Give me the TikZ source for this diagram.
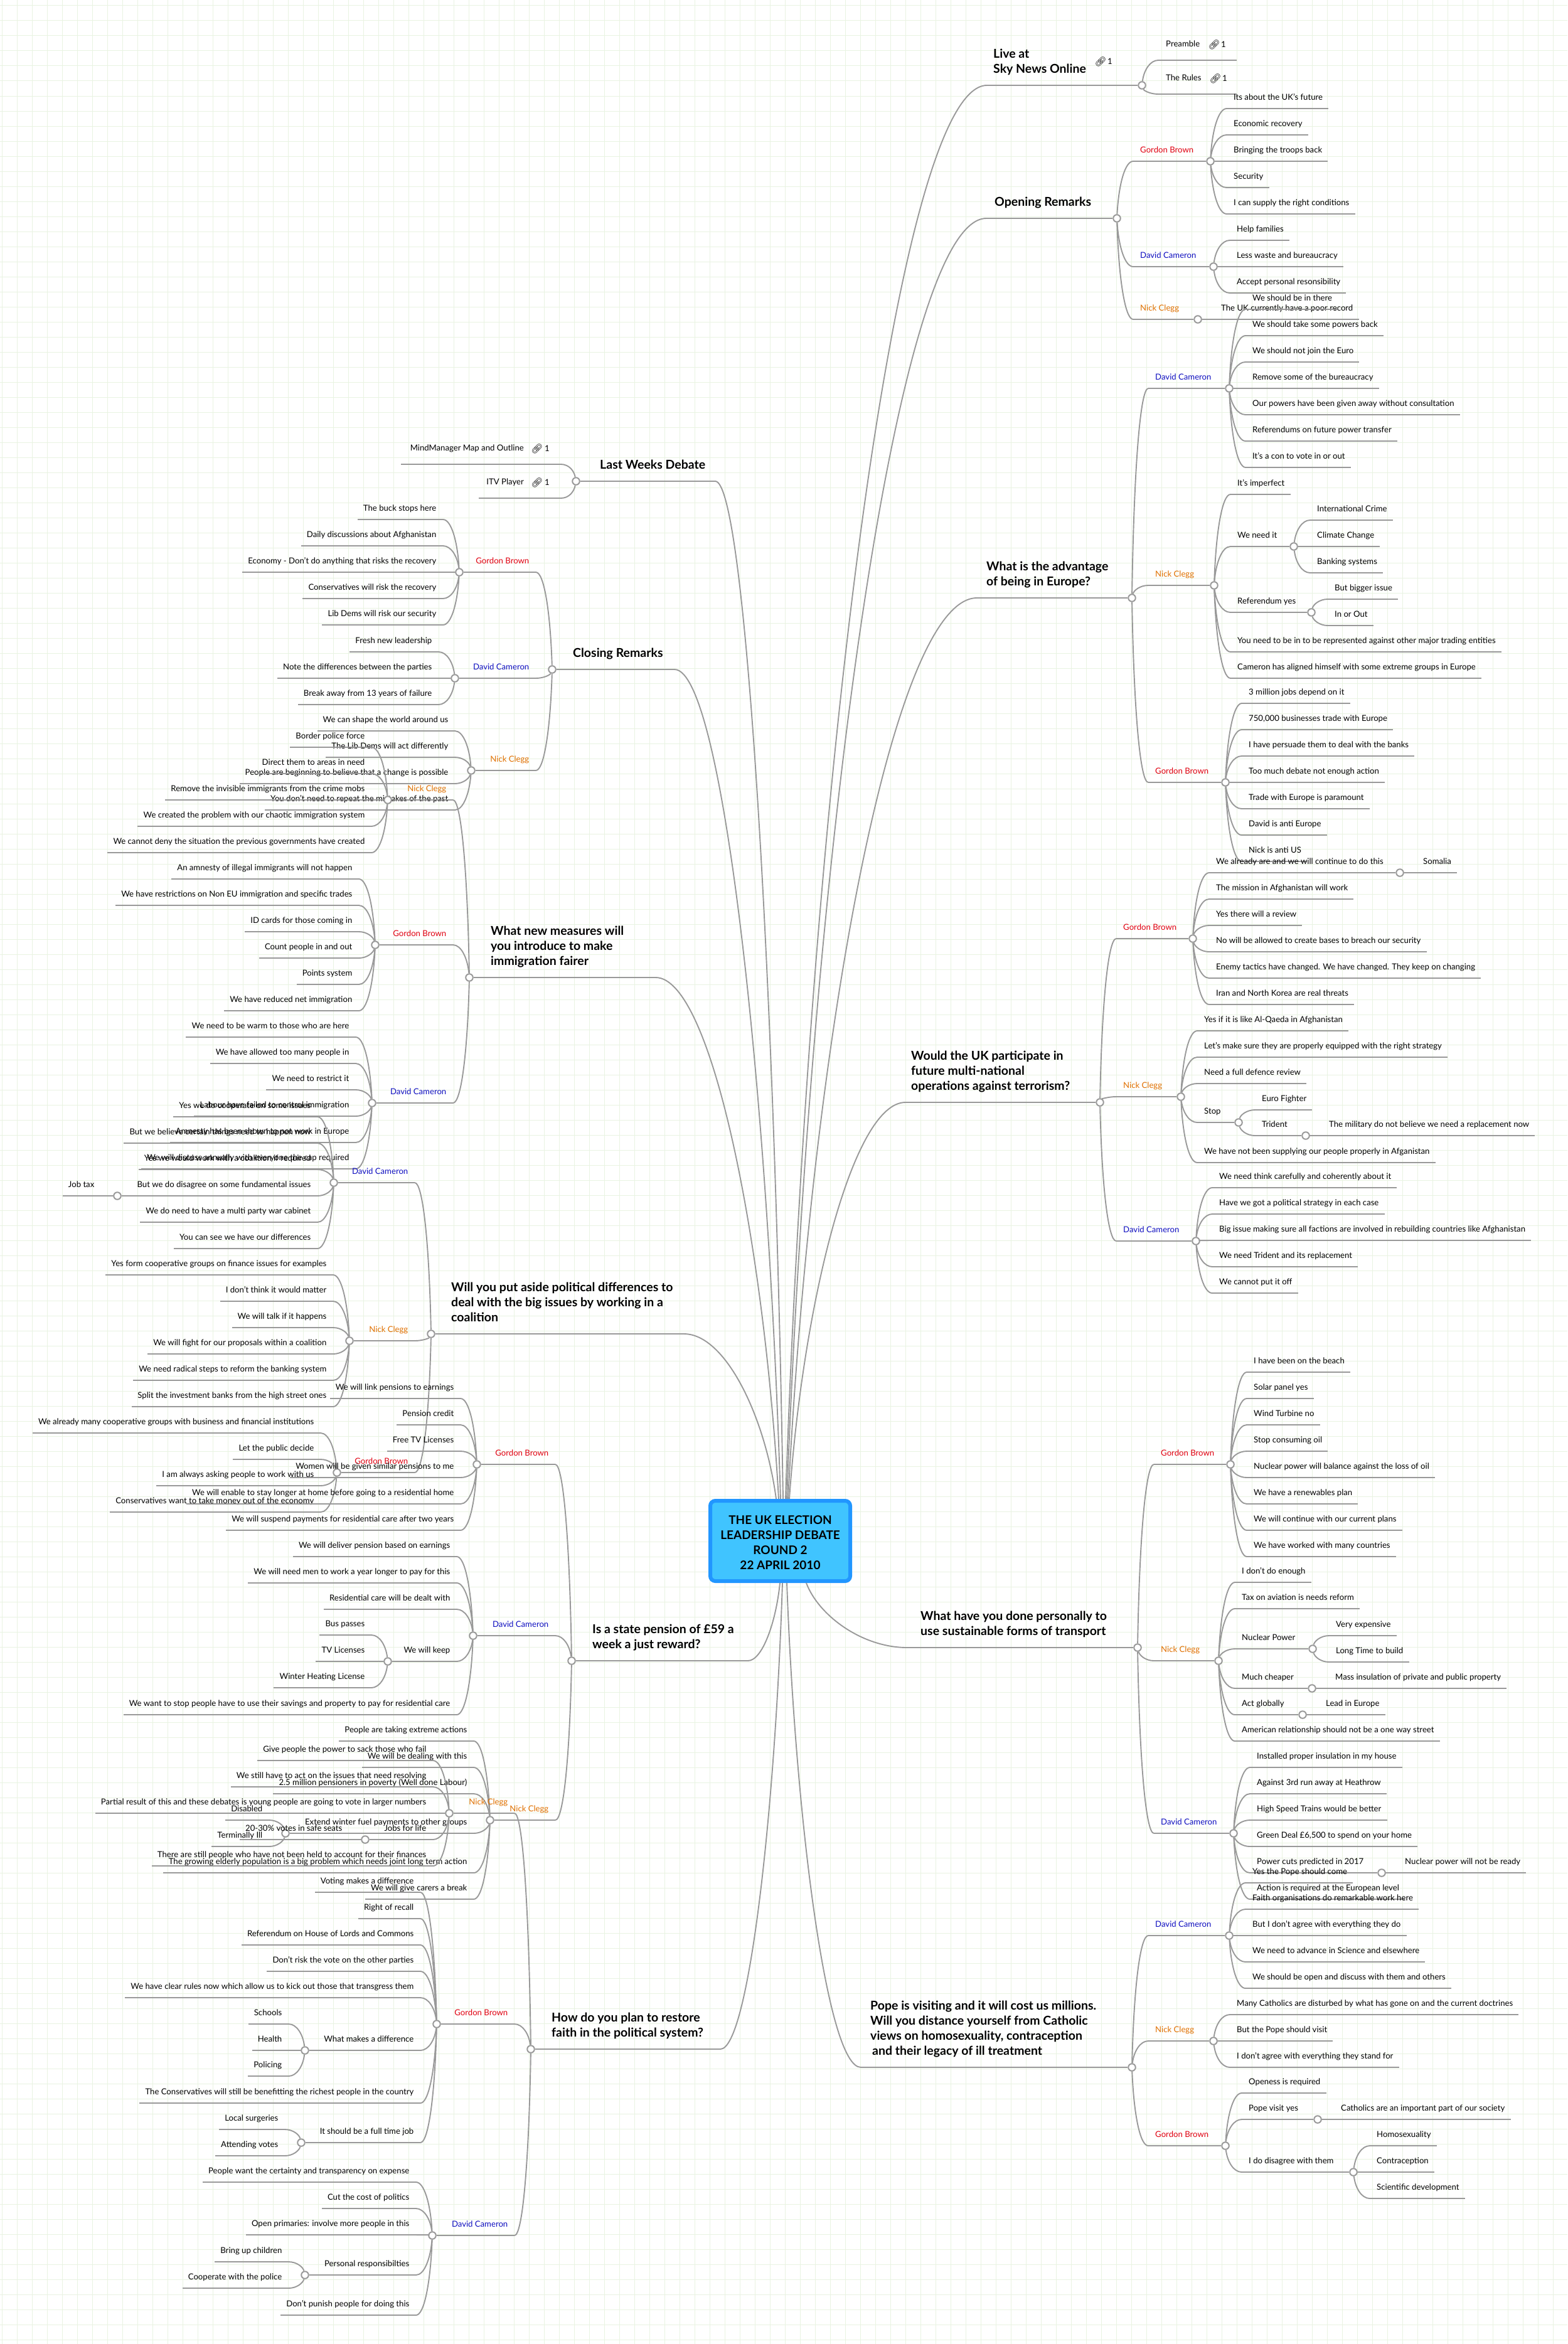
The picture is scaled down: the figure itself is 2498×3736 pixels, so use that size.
\documentclass[tikz,border=0pt]{standalone}
\usepackage{fontspec}
\usetikzlibrary{calc}
\setmainfont{Lato}
\newfontfamily\emo{Noto Emoji}
\definecolor{gridc}{HTML}{E9F3E2}
\definecolor{linec}{HTML}{999999}
\definecolor{gbc}{HTML}{E00010}
\definecolor{dcc}{HTML}{1010C0}
\definecolor{ncc}{HTML}{E07000}
\definecolor{rootb}{HTML}{2196FF}
\definecolor{rootf}{HTML}{40C4FF}
\tikzset{
 conn/.style={draw=linec,line width=1.9pt},
 hubn/.style={circle,draw=linec,fill=white,line width=2pt,minimum size=11.5pt,inner sep=0pt},
 leaf/.style={inner sep=0pt,font=\fontsize{13.15}{15}\selectfont,text height=10pt,text depth=3pt},
 gb/.style={leaf,text=gbc},
 dc/.style={leaf,text=dcc},
 nc/.style={leaf,text=ncc},
 mainn/.style={inner sep=0pt,align=left,anchor=south west,font=\fontsize{19.5}{24}\selectfont\bfseries},
 lk/.style={inner sep=0pt,font=\emo\fontsize{15}{15}\selectfont},
 lkn/.style={inner sep=0pt,font=\fontsize{13.15}{15}\selectfont},
}
% curve from a line end to a hub; #3 = +1 right side, -1 left side
\newcommand\Bez[3]{\draw[conn] let \p1=(#1),\p2=(#2) in (#1) .. controls ({\x1-(#3)*13pt},\y1) and ({\x2+(#3)*3pt},{\y2+0.6*(\y1-\y2)}) .. (#2);}
\newcommand\Hub[3]{\node[hubn] (#1) at (#2,#3) {};}
% right leaf: [style]{parent}{name}{y}{text}
\newcommand\RL[5][leaf]{%
 \path let \p1=(#2),\p2=(0,#4) in coordinate (#3o) at ({\x1+37pt},{\y2+17.5pt}) coordinate (#3c) at ({\x1+26pt},\y2);
 \node[#1,anchor=west] (#3) at (#3o) {#5};
 \path let \p1=(#3.east),\p2=(#3c) in coordinate (#3e) at ({\x1+9pt},\y2);
 \draw[conn] (#3c) -- (#3e);
 \Bez{#3c}{#2}{1}}
% right leaf ending in a hub: [style]{parent}{name}{y}{text}{hub x}
\newcommand\RH[6][leaf]{%
 \path let \p1=(#2),\p2=(0,#4) in coordinate (#3o) at ({\x1+37pt},{\y2+17.5pt}) coordinate (#3c) at ({\x1+26pt},\y2);
 \node[#1,anchor=west] (#3) at (#3o) {#5};
 \Hub{#3h}{#6}{#4}
 \draw[conn] (#3c) -- (#3h);
 \Bez{#3c}{#2}{1}}
% left leaf
\newcommand\LL[5][leaf]{%
 \path let \p1=(#2),\p2=(0,#4) in coordinate (#3o) at ({\x1-36.5pt},{\y2+17.5pt}) coordinate (#3c) at ({\x1-26pt},\y2);
 \node[#1,anchor=east] (#3) at (#3o) {#5};
 \path let \p1=(#3.west),\p2=(#3c) in coordinate (#3e) at ({\x1-9pt},\y2);
 \draw[conn] (#3c) -- (#3e);
 \Bez{#3c}{#2}{-1}}
\newcommand\LH[6][leaf]{%
 \path let \p1=(#2),\p2=(0,#4) in coordinate (#3o) at ({\x1-36.5pt},{\y2+17.5pt}) coordinate (#3c) at ({\x1-26pt},\y2);
 \node[#1,anchor=east] (#3) at (#3o) {#5};
 \Hub{#3h}{#6}{#4}
 \draw[conn] (#3c) -- (#3h);
 \Bez{#3c}{#2}{-1}}
% main branch: {name}{hub x}{y}{line end x}{root anchor}{offset}{text x}{text}
\newcommand\MB[8]{%
 \Hub{#1}{#2}{#3}
 \coordinate (#1s) at ([xshift=#6pt]#5);
 \coordinate (#1e) at (#4,#3);
 \draw[conn] (#1) -- (#1e);
 \draw[conn] let \p1=(#1s),\p2=(#1e) in (#1s) .. controls ({\x1+0.12*(\x2-\x1)},{\y1+0.5*(\y2-\y1)}) and ({\x1+0.55*(\x2-\x1)},\y2) .. (#1e);
 \node[mainn] (#1t) at (#7,#3-12) {#8\strut};}
\begin{document}
\begin{tikzpicture}[x=1pt,y=-1pt]
\useasboundingbox (0,0) rectangle (2498,3736);
\fill[white] (0,0) rectangle (2498,3736);
\foreach \gx in {3,27,...,2498} \draw[gridc,line width=1pt] (\gx,0) -- (\gx,3736);
\foreach \gy in {9,33,...,3736} \draw[gridc,line width=1pt] (0,\gy) -- (2498,\gy);
\node[draw=rootb,fill=rootf,line width=6pt,rounded corners=8pt,minimum width=223pt,minimum height=128pt,align=center,font=\fontsize{19}{24}\selectfont\bfseries,inner sep=0pt] (root) at (1243.5,2456) {\rule{0pt}{19pt}THE UK ELECTION\\LEADERSHIP DEBATE\\ROUND 2\\22 APRIL 2010};
%%%% RIGHT
\MB{live}{1820}{136}{1573}{root.north}{8.5}{1583}{Live at\\Sky News Online}
\node[lk] (liveic) at (1754,98) {🔗};
\node[lkn] (liven) at (1769,98) {1};
\node[leaf,anchor=west] (pre) at (1858,71) {Preamble};
\coordinate (prec) at (1846,96); \coordinate (pree) at (1971,96);
\draw[conn] (prec) -- (pree); \Bez{prec}{live}{1}
\node[lk] (preic) at (1935,71) {🔗};
\node[lkn] (pren) at (1950,71) {1};
\node[leaf,anchor=west] (rul) at (1858,125) {The Rules};
\coordinate (rulc) at (1846,150); \coordinate (rule) at (1971,150);
\draw[conn] (rulc) -- (rule); \Bez{rulc}{live}{1}
\node[lk] (rulic) at (1937,125) {🔗};
\node[lkn] (ruln) at (1952,125) {1};

\MB{op}{1780}{348}{1572}{root.north}{10.5}{1585}{Opening Remarks}
\RH[gb]{op}{opg}{257}{Gordon Brown}{1929}
\RL{opgh}{opg1}{173}{Its about the UK's future}
\RL{opgh}{opg2}{215}{Economic recovery}
\RL{opgh}{opg3}{257}{Bringing the troops back}
\RL{opgh}{opg4}{299}{Security}
\RL{opgh}{opg5}{341}{I can supply the right conditions}
\RH[dc]{op}{opd}{425}{David Cameron}{1934}
\RL{opdh}{opd1}{383}{Help families}
\RL{opdh}{opd2}{425}{Less waste and bureaucracy}
\RL{opdh}{opd3}{467}{Accept personal resonsibility}
\RH[nc]{op}{opn}{509}{Nick Clegg}{1909}
\RL{opnh}{opn1}{509}{The UK currently have a poor record}

\MB{eu}{1804}{953}{1557}{root.north}{12.5}{1572}{What is the advantage\\of being in Europe?}
\RH[dc]{eu}{eud}{619}{David Cameron}{1959}
\RL{eudh}{eud1}{493}{We should be in there}
\RL{eudh}{eud2}{535}{We should take some powers back}
\RL{eudh}{eud3}{577}{We should not join the Euro}
\RL{eudh}{eud4}{619}{Remove some of the bureaucracy}
\RL{eudh}{eud5}{661}{Our powers have been given away without consultation}
\RL{eudh}{eud6}{703}{Referendums on future power transfer}
\RL{eudh}{eud7}{745}{It's a con to vote in or out}
\RH[nc]{eu}{eun}{933}{Nick Clegg}{1935}
\RL{eunh}{eun1}{788}{It's imperfect}
\RH{eunh}{eun2}{871}{We need it}{2062}
\RL{eun2h}{eun21}{829}{International Crime}
\RL{eun2h}{eun22}{871}{Climate Change}
\RL{eun2h}{eun23}{913}{Banking systems}
\RH{eunh}{eun3}{976}{Referendum yes}{2090}
\RL{eun3h}{eun31}{955}{But bigger issue}
\RL{eun3h}{eun32}{997}{In or Out}
\RL{eunh}{eun4}{1039}{You need to be in to be represented against other major trading entities}
\RL{eunh}{eun5}{1081}{Cameron has aligned himself with some extreme groups in Europe}
\RH[gb]{eu}{eug}{1247}{Gordon Brown}{1953}
\RL{eugh}{eug1}{1121}{3 million jobs depend on it}
\RL{eugh}{eug2}{1163}{750,000 businesses trade with Europe}
\RL{eugh}{eug3}{1205}{I have persuade them to deal with the banks}
\RL{eugh}{eug4}{1247}{Too much debate not enough action}
\RL{eugh}{eug5}{1289}{Trade with Europe is paramount}
\RL{eugh}{eug6}{1331}{David is anti Europe}
\RL{eugh}{eug7}{1373}{Nick is anti US}

\MB{ter}{1753}{1757}{1443}{root.north}{14.5}{1452}{Would the UK participate in\\future multi-national\\operations against terrorism?}
\RH[gb]{ter}{terg}{1496}{Gordon Brown}{1901}
\RH{tergh}{terg1}{1391}{We already are and we will continue to do this}{2231}
\RL{terg1h}{terg11}{1391}{Somalia}
\RL{tergh}{terg2}{1433}{The mission in Afghanistan will work}
\RL{tergh}{terg3}{1475}{Yes there will a review}
\RL{tergh}{terg4}{1517}{No will be allowed to create bases to breach our security}
\RL{tergh}{terg5}{1559}{Enemy tactics have changed. We have changed. They keep on changing}
\RL{tergh}{terg6}{1601}{Iran and North Korea are real threats}
\RH[nc]{ter}{tern}{1748}{Nick Clegg}{1882}
\RL{ternh}{tern1}{1643}{Yes if it is like Al-Qaeda in Afghanistan}
\RL{ternh}{tern2}{1685}{Let's make sure they are properly equipped with the right strategy}
\RL{ternh}{tern3}{1727}{Need a full defence review}
\RH{ternh}{tern4}{1789}{Stop}{1974}
\RL{tern4h}{tern41}{1769}{Euro Fighter}
\RH{tern4h}{tern42}{1810}{Trident}{2081}
\RL{tern42h}{tern421}{1810}{The military do not believe we need a replacement now}
\RL{ternh}{tern5}{1853}{We have not been supplying our people properly in Afganistan}
\RH[dc]{ter}{terd}{1978}{David Cameron}{1906}
\RL{terdh}{terd1}{1893}{We need think carefully and coherently about it}
\RL{terdh}{terd2}{1935}{Have we got a political strategy in each case}
\RL{terdh}{terd3}{1977}{Big issue making sure all factions are involved in rebuilding countries like Afghanistan}
\RL{terdh}{terd4}{2019}{We need Trident and its replacement}
\RL{terdh}{terd5}{2061}{We cannot put it off}

\MB{tra}{1813}{2626}{1446}{root.south}{41.5}{1467}{What have you done personally to\\use sustainable forms of transport}
\RH[gb]{tra}{trag}{2334}{Gordon Brown}{1961}
\RL{tragh}{trag1}{2187}{I have been on the beach}
\RL{tragh}{trag2}{2229}{Solar panel yes}
\RL{tragh}{trag3}{2271}{Wind Turbine no}
\RL{tragh}{trag4}{2313}{Stop consuming oil}
\RL{tragh}{trag5}{2355}{Nuclear power will balance against the loss of oil}
\RL{tragh}{trag6}{2397}{We have a renewables plan}
\RL{tragh}{trag7}{2439}{We will continue with our current plans}
\RL{tragh}{trag8}{2481}{We have worked with many countries}
\RH[nc]{tra}{tran}{2647}{Nick Clegg}{1942}
\RL{tranh}{tran1}{2522}{I don't do enough}
\RL{tranh}{tran2}{2564}{Tax on aviation is needs reform}
\RH{tranh}{tran3}{2628}{Nuclear Power}{2092}
\RL{tran3h}{tran31}{2607}{Very expensive}
\RL{tran3h}{tran32}{2649}{Long Time to build}
\RH{tranh}{tran4}{2691}{Much cheaper}{2091}
\RL{tran4h}{tran41}{2691}{Mass insulation of private and public property}
\RH{tranh}{tran5}{2733}{Act globally}{2076}
\RL{tran5h}{tran51}{2733}{Lead in Europe}
\RL{tranh}{tran6}{2775}{American relationship should not be a one way street}
\RH[dc]{tra}{trad}{2922}{David Cameron}{1966}
\RL{tradh}{trad1}{2817}{Installed proper insulation in my house}
\RL{tradh}{trad2}{2859}{Against 3rd run away at Heathrow}
\RL{tradh}{trad3}{2901}{High Speed Trains would be better}
\RL{tradh}{trad4}{2943}{Green Deal £6,500 to spend on your home}
\RH{tradh}{trad5}{2985}{Power cuts predicted in 2017}{2202}
\RL{trad5h}{trad51}{2985}{Nuclear power will not be ready}
\RL{tradh}{trad6}{3027}{Action is required at the European level}

\MB{pop}{1804}{3295}{1372}{root.south}{10.5}{1387}{Pope is visiting and it will cost us millions.\\Will you distance yourself from Catholic\\views on homosexuality, contraception\\\hspace*{3pt}and their legacy of ill treatment}
\RH[dc]{pop}{popd}{3085}{David Cameron}{1959}
\RL{popdh}{popd1}{3001}{Yes the Pope should come}
\RL{popdh}{popd2}{3043}{Faith organisations do remarkable work here}
\RL{popdh}{popd3}{3085}{But I don't agree with everything they do}
\RL{popdh}{popd4}{3127}{We need to advance in Science and elsewhere}
\RL{popdh}{popd5}{3169}{We should be open and discuss with them and others}
\RH[nc]{pop}{popn}{3253}{Nick Clegg}{1934}
\RL{popnh}{popn1}{3211}{Many Catholics are disturbed by what has gone on and the current doctrines}
\RL{popnh}{popn2}{3253}{But the Pope should visit}
\RL{popnh}{popn3}{3295}{I don't agree with everything they stand for}
\RH[gb]{pop}{popg}{3420}{Gordon Brown}{1953}
\RL{popgh}{popg1}{3336}{Openess is required}
\RH{popgh}{popg2}{3378}{Pope visit yes}{2100}
\RL{popg2h}{popg21}{3378}{Catholics are an important part of our society}
\RH{popgh}{popg3}{3462}{I do disagree with them}{2157}
\RL{popg3h}{popg31}{3420}{Homosexuality}
\RL{popg3h}{popg32}{3462}{Contraception}
\RL{popg3h}{popg33}{3504}{Scientific development}

%%%% LEFT
\MB{lw}{918}{767}{1140}{root.north}{4.5}{956}{Last Weeks Debate}
\node[leaf,anchor=east] (lw1) at (835,715) {MindManager Map and Outline};
\coordinate (lw1c) at (894,740); \coordinate (lw1e) at (639,740);
\draw[conn] (lw1c) -- (lw1e); \Bez{lw1c}{lw}{-1}
\node[lk] (lw1ic) at (856,715) {🔗};
\node[lkn] (lw1n) at (872,715) {1};
\node[leaf,anchor=east] (lw2) at (835,769) {ITV Player};
\coordinate (lw2c) at (894,794); \coordinate (lw2e) at (763,794);
\draw[conn] (lw2c) -- (lw2e); \Bez{lw2c}{lw}{-1}
\node[lk] (lw2ic) at (856,769) {🔗};
\node[lkn] (lw2n) at (872,769) {1};

\MB{cl}{880}{1067}{1075}{root.north}{0.5}{913}{Closing Remarks}
\LH[gb]{cl}{clg}{912}{Gordon Brown}{732}
\LL{clgh}{clg1}{828}{The buck stops here}
\LL{clgh}{clg2}{870}{Daily discussions about Afghanistan}
\LL{clgh}{clg3}{912}{Economy - Don't do anything that risks the recovery}
\LL{clgh}{clg4}{954}{Conservatives will risk the recovery}
\LL{clgh}{clg5}{996}{Lib Dems will risk our security}
\LH[dc]{cl}{cld}{1081}{David Cameron}{725}
\LL{cldh}{cld1}{1039}{Fresh new leadership}
\LL{cldh}{cld2}{1081}{Note the differences between the parties}
\LL{cldh}{cld3}{1123}{Break away from 13 years of failure}
\LH[nc]{cl}{cln}{1228}{Nick Clegg}{751}
\LL{clnh}{cln1}{1165}{We can shape the world around us}
\LL{clnh}{cln2}{1207}{The Lib Dems will act differently}
\LL{clnh}{cln3}{1249}{People are beginning to believe that a change is possible}
\LL{clnh}{cln4}{1291}{You don't need to repeat the mistakes of the past}

\MB{im}{748}{1558}{1045}{root.north}{-2.5}{782}{What new measures will\\you introduce to make\\immigration fairer}
\LH[nc]{im}{imn}{1275}{Nick Clegg}{618}
\LL{imnh}{imn1}{1191}{Border police force}
\LL{imnh}{imn2}{1233}{Direct them to areas in need}
\LL{imnh}{imn3}{1275}{Remove the invisible immigrants from the crime mobs}
\LL{imnh}{imn4}{1317}{We created the problem with our chaotic immigration system}
\LL{imnh}{imn5}{1359}{We cannot deny the situation the previous governments have created}
\LH[gb]{im}{img}{1506}{Gordon Brown}{598}
\LL{imgh}{img1}{1401}{An amnesty of illegal immigrants will not happen}
\LL{imgh}{img2}{1443}{We have restrictions on Non EU immigration and specific trades}
\LL{imgh}{img3}{1485}{ID cards for those coming in}
\LL{imgh}{img4}{1527}{Count people in and out}
\LL{imgh}{img5}{1569}{Points system}
\LL{imgh}{img6}{1611}{We have reduced net immigration}
\LH[dc]{im}{imd}{1758}{David Cameron}{593}
\LL{imdh}{imd1}{1653}{We need to be warm to those who are here}
\LL{imdh}{imd2}{1695}{We have allowed too many people in}
\LL{imdh}{imd3}{1737}{We need to restrict it}
\LL{imdh}{imd4}{1779}{Labour have failed to control immigration}
\LL{imdh}{imd5}{1821}{Amnesty has been shown to not work in Europe}
\LL{imdh}{imd6}{1863}{We will discuss annually with everyone the cap required}

\MB{co}{687}{2126}{1090}{root.north}{-6.5}{719}{Will you put aside political differences to\\deal with the big issues by working in a\\coalition}
\LH[dc]{co}{cod}{1885}{David Cameron}{532}
\LL{codh}{cod1}{1780}{Yes we do cooperate on some issues}
\LL{codh}{cod2}{1822}{But we believe certain things need to happen now}
\LL{codh}{cod3}{1864}{Yes we would work with a coalition if required}
\LH{codh}{cod4}{1906}{But we do disagree on some fundamental issues}{187}
\LL{cod4h}{cod41}{1906}{Job tax}
\LL{codh}{cod5}{1948}{We do need to have a multi party war cabinet}
\LL{codh}{cod6}{1990}{You can see we have our differences}
\LH[nc]{co}{con}{2137}{Nick Clegg}{557}
\LL{conh}{con1}{2032}{Yes form cooperative groups on finance issues for examples}
\LL{conh}{con2}{2074}{I don't think it would matter}
\LL{conh}{con3}{2116}{We will talk if it happens}
\LL{conh}{con4}{2158}{We will fight for our proposals within a coalition}
\LL{conh}{con5}{2200}{We need radical steps to reform the banking system}
\LL{conh}{con6}{2242}{Split the investment banks from the high street ones}
\LH[gb]{co}{cog}{2347}{Gordon Brown}{537}
\LL{cogh}{cog1}{2284}{We already many cooperative groups with business and financial institutions}
\LL{cogh}{cog2}{2326}{Let the public decide}
\LL{cogh}{cog3}{2368}{I am always asking people to work with us}
\LL{cogh}{cog4}{2410}{Conservatives want to take money out of the economy}

\MB{pe}{911}{2647}{1192}{root.south}{-0.5}{944}{Is a state pension of £59 a\\week a just reward?}
\LH[gb]{pe}{peg}{2334}{Gordon Brown}{760}
\LL{pegh}{peg1}{2229}{We will link pensions to earnings}
\LL{pegh}{peg2}{2271}{Pension credit}
\LL{pegh}{peg3}{2313}{Free TV Licenses}
\LL{pegh}{peg4}{2355}{Women will be given similar pensions to me}
\LL{pegh}{peg5}{2397}{We will enable to stay longer at home before going to a residential home}
\LL{pegh}{peg6}{2439}{We will suspend payments for residential care after two years}
\LH[dc]{pe}{ped}{2607}{David Cameron}{754}
\LL{pedh}{ped1}{2481}{We will deliver pension based on earnings}
\LL{pedh}{ped2}{2523}{We will need men to work a year longer to pay for this}
\LL{pedh}{ped3}{2565}{Residential care will be dealt with}
\LH{pedh}{ped4}{2648}{We will keep}{618}
\LL{ped4h}{ped41}{2606}{Bus passes}
\LL{ped4h}{ped42}{2648}{TV Licenses}
\LL{ped4h}{ped43}{2690}{Winter Heating License}
\LL{pedh}{ped5}{2733}{We want to stop people have to use their savings and property to pay for residential care}
\LH[nc]{pe}{pen}{2901}{Nick Clegg}{781}
\LL{penh}{pen1}{2775}{People are taking extreme actions}
\LL{penh}{pen2}{2817}{We will be dealing with this}
\LL{penh}{pen3}{2859}{2.5 million pensioners in poverty (Well done Labour)}
\LH{penh}{pen4}{2922}{Extend winter fuel payments to other groups}{455}
\LL{pen4h}{pen41}{2901}{Disabled}
\LL{pen4h}{pen42}{2943}{Terminally Ill}
\LL{penh}{pen5}{2985}{The growing elderly population is a big problem which needs joint long term action}
\LL{penh}{pen6}{3027}{We will give carers a break}

\MB{fa}{846}{3266}{1148}{root.south}{3.5}{879}{How do you plan to restore\\faith in the political system?}
\LH[nc]{fa}{fan}{2890}{Nick Clegg}{716}
\LL{fanh}{fan1}{2806}{Give people the power to sack those who fail}
\LL{fanh}{fan2}{2848}{We still have to act on the issues that need resolving}
\LL{fanh}{fan3}{2890}{Partial result of this and these debates is young people are going to vote in larger numbers}
\LH{fanh}{fan4}{2932}{Jobs for life}{582}
\LL{fan4h}{fan41}{2932}{20-30\% votes in safe seats}
\LL{fanh}{fan5}{2974}{There are still people who have not been held to account for their finances}
\LH[gb]{fa}{fag}{3226}{Gordon Brown}{696}
\LL{fagh}{fag1}{3016}{Voting makes a difference}
\LL{fagh}{fag2}{3058}{Right of recall}
\LL{fagh}{fag3}{3100}{Referendum on House of Lords and Commons}
\LL{fagh}{fag4}{3142}{Don't risk the vote on the other parties}
\LL{fagh}{fag5}{3184}{We have clear rules now which allow us to kick out those that transgress them}
\LH{fagh}{fag6}{3268}{What makes a difference}{486}
\LL{fag6h}{fag61}{3226}{Schools}
\LL{fag6h}{fag62}{3268}{Health}
\LL{fag6h}{fag63}{3309}{Policing}
\LL{fagh}{fag7}{3352}{The Conservatives will still be benefitting the richest people in the country}
\LH{fagh}{fag8}{3415}{It should be a full time job}{480}
\LL{fag8h}{fag81}{3394}{Local surgeries}
\LL{fag8h}{fag82}{3436}{Attending votes}
\LH[dc]{fa}{fad}{3563}{David Cameron}{689}
\LL{fadh}{fad1}{3478}{People want the certainty and transparency on expense}
\LL{fadh}{fad2}{3520}{Cut the cost of politics}
\LL{fadh}{fad3}{3562}{Open primaries: involve more people in this}
\LH{fadh}{fad4}{3626}{Personal responsibilties}{486}
\LL{fad4h}{fad41}{3605}{Bring up children}
\LL{fad4h}{fad42}{3647}{Cooperate with the police}
\LL{fadh}{fad5}{3690}{Don't punish people for doing this}
\end{tikzpicture}
\end{document}
